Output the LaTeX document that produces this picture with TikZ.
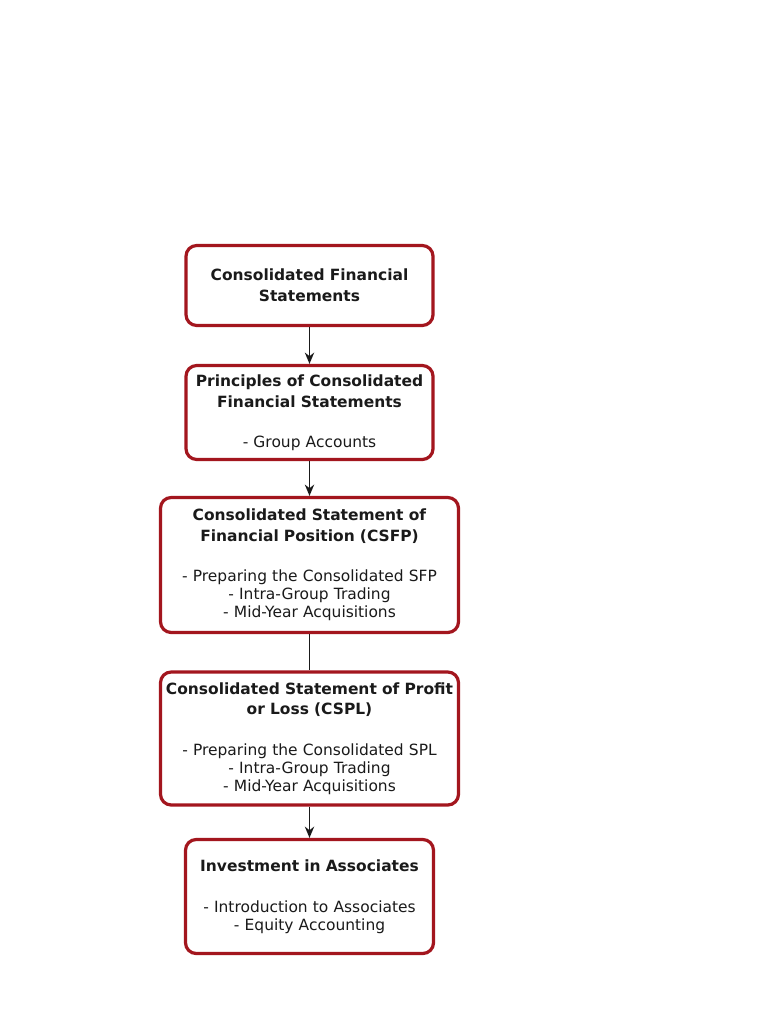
\documentclass[tikz,border=0pt]{standalone}
\usepackage{fontspec}
\setmainfont{DejaVu Sans}
\usetikzlibrary{arrows.meta}
\definecolor{boxred}{HTML}{A3161E}
\definecolor{txt}{HTML}{1A1A1A}
\tikzset{
  px/.style={x=0.75pt,y=-0.75pt},
  topic/.style={draw=boxred, line width=2.4pt, rounded corners=8pt, fill=white,
    align=center, inner sep=0pt, text=txt, font=\fontsize{11.6}{13.5}\selectfont},
  link/.style={line width=1.1pt, draw=txt},
  arr/.style={link, -{Stealth[length=8.5pt,width=7pt]}}
}
\begin{document}
\begin{tikzpicture}[px]
\useasboundingbox (0,0) rectangle (768,1024);
\node[topic, text width=240*0.75pt, minimum width=247*0.75pt, minimum height=80*0.75pt] (a) at (309.5,285.5)
  {\textbf{Consolidated Financial}\\[2pt]\textbf{Statements}};
\node[topic, text width=240*0.75pt, minimum width=247*0.75pt, minimum height=94*0.75pt] (b) at (309.5,412.5)
  {\textbf{Principles of Consolidated}\\[2pt]\textbf{Financial Statements}\\[16.5pt]- Group Accounts};
\node[topic, text width=292*0.75pt, minimum width=298*0.75pt, minimum height=135*0.75pt] (c) at (309.5,565)
  {\textbf{Consolidated Statement of}\\[2pt]\textbf{Financial Position (CSFP)}\\[17pt]- Preparing the Consolidated SFP\\- Intra-Group Trading\\- Mid-Year Acquisitions};
\node[topic, text width=296*0.75pt, minimum width=298*0.75pt, minimum height=133*0.75pt] (d) at (309.5,738.5)
  {\textbf{Consolidated Statement of Profit}\\[2pt]\textbf{or Loss (CSPL)}\\[17pt]- Preparing the Consolidated SPL\\- Intra-Group Trading\\- Mid-Year Acquisitions};
\node[topic, text width=240*0.75pt, minimum width=248*0.75pt, minimum height=114*0.75pt] (e) at (309.5,896.5)
  {\textbf{Investment in Associates}\\[17pt]- Introduction to Associates\\- Equity Accounting};
\draw[arr] (a) -- (b);
\draw[arr] (b) -- (c);
\draw[link] (c) -- (d);
\draw[arr] (d) -- (e);
\end{tikzpicture}
\end{document}
